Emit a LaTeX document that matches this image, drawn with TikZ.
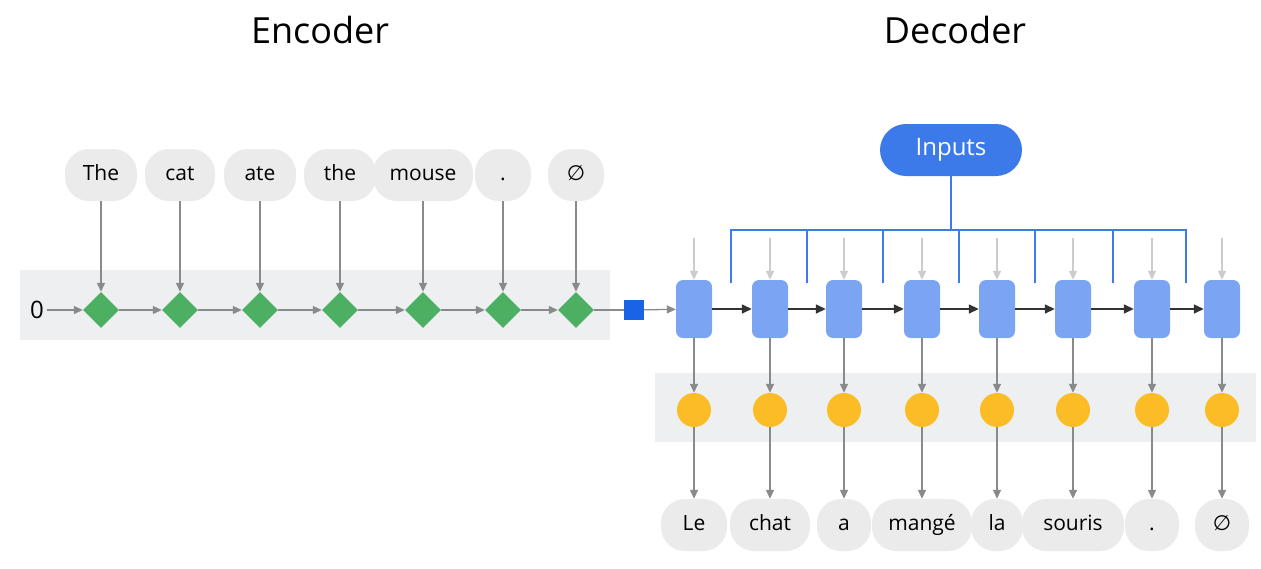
\documentclass[tikz,border=0pt]{standalone}
\usepackage{fontspec}
\setmainfont{Open Sans}
\newfontfamily\djv{DejaVu Sans}
\usetikzlibrary{shapes.geometric,arrows.meta}
\definecolor{bub}{HTML}{EBEBEB}
\definecolor{band}{HTML}{EEEFF1}
\definecolor{grn}{HTML}{4CAF62}
\definecolor{dblue}{HTML}{1A63E6}
\definecolor{lblue}{HTML}{7BA5F2}
\definecolor{blueln}{HTML}{3D7BE8}
\definecolor{ylw}{HTML}{FBBC26}
\definecolor{garr}{HTML}{8A8A8A}
\begin{document}
\begin{tikzpicture}[x=1pt,y=-1pt,
 word/.style={fill=bub,rounded corners=24pt,minimum height=52pt,inner sep=0pt,text height=15pt,text depth=4pt,font=\fontsize{21}{24}\selectfont},
 dia/.style={diamond,fill=grn,minimum width=36pt,minimum height=36pt,inner sep=0pt},
 cell/.style={fill=lblue,rounded corners=7pt,minimum width=36pt,minimum height=58pt,inner sep=0pt},
 dot/.style={circle,fill=ylw,minimum size=34pt,inner sep=0pt},
 ga/.style={draw=garr,line width=1.3pt,-{Triangle[length=9pt,width=8pt]}},
 la/.style={draw=black!80,line width=1.5pt,-{Triangle[length=10pt,width=9pt]}},
 pa/.style={draw=black!20,line width=1.3pt,-{Triangle[length=9pt,width=8pt]}},
 bl/.style={draw=blueln,line width=1.4pt}]
\useasboundingbox (0,0) rectangle (1261,568);
\fill[white] (0,0) rectangle (1261,568);
\fill[band] (20,270) rectangle (610,340);
\fill[band] (655,373) rectangle (1256,442);
\node[font=\fontsize{36}{40}\selectfont] (enc) at (320,30) {Encoder};
\node[font=\fontsize{36}{40}\selectfont] (dec) at (955,30) {Decoder};
\node[font=\fontsize{24}{28}\selectfont] (zero) at (37,310) {0};
% encoder
\foreach \i/\x/\w/\t in {1/101/72/The,2/180/70/cat,3/260/72/ate,4/340/72/the,5/423/100/mouse,6/503/56/.,7/576/56/{\djv ∅}}{
  \node[word,minimum width=\w pt] (w\i) at (\x,175) {\t};
  \node[dia] (d\i) at (\x,310) {};
  \draw[ga] (w\i) -- (d\i);
}
\draw[ga] (zero) -- (d1);
\foreach \i/\j in {1/2,2/3,3/4,4/5,5/6,6/7} \draw[ga] (d\i) -- (d\j);
\node[fill=dblue,minimum size=20pt,inner sep=0pt] (sq) at (634,310) {};
\draw[draw=garr,line width=1.3pt] (d7) -- (sq);
% decoder
\node[fill=dblue!85!white,text=white,rounded corners=26pt,minimum width=142pt,minimum height=52pt,font=\fontsize{24}{28}\selectfont] (inp) at (951,150) {Inputs};
\coordinate (bj) at (951,230);
\draw[bl] (inp) -- (bj);
\draw[bl] (731,283) -- (731,230) -- (1186,230) -- (1186,283);
\foreach \x in {807,883,959,1035,1113} \draw[bl] (\x,230) -- (\x,283);
\foreach \i/\x/\w/\t in {1/694/66/Le,2/770/80/chat,3/844/54/a,4/922/100/mangé,5/997/52/la,6/1073/102/souris,7/1152/54/.,8/1222/54/{\djv ∅}}{
  \node[cell] (c\i) at (\x,309) {};
  \node[dot] (y\i) at (\x,410) {};
  \node[word,minimum width=\w pt] (o\i) at (\x,525) {\t};
  \coordinate (p\i) at (\x,238);
  \draw[pa] (p\i) -- (c\i);
  \draw[ga] (c\i) -- (y\i);
  \draw[ga] (y\i) -- (o\i);
}
\draw[ga] (sq) -- (c1);
\foreach \i/\j in {1/2,2/3,3/4,4/5,5/6,6/7,7/8} \draw[la] (c\i) -- (c\j);
\end{tikzpicture}
\end{document}
